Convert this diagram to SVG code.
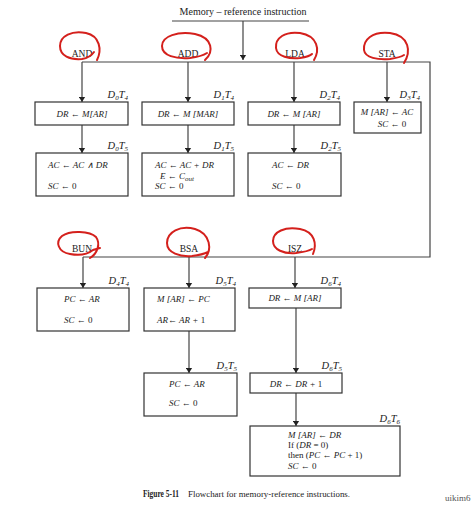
<svg xmlns="http://www.w3.org/2000/svg" width="474" height="505" viewBox="0 0 474 505">
<style>
text{font-family:"Liberation Serif","Times New Roman",serif;fill:#222}
.t{font-size:10px}
.op{font-size:9.5px}
.m{font-size:9px;font-style:italic}
.r{font-style:normal}
.lbl{font-size:10.5px;font-style:italic;text-anchor:end}
.sub{font-size:7px}
.c{text-anchor:middle}
.box{fill:#fff;stroke:#333;stroke-width:1.2}
.ln{fill:none;stroke:#444;stroke-width:1.2}
.red{fill:none;stroke:#d4201c;stroke-width:2;stroke-linecap:round}
.cap{font-size:9px}
</style>
<defs>
<marker id="ah" viewBox="0 0 8 10" refX="8" refY="5" markerWidth="5" markerHeight="7" orient="auto" markerUnits="userSpaceOnUse">
<path d="M0,0 L8,5 L0,10 z" fill="#222"/>
</marker>
</defs>
<rect width="474" height="505" fill="#fff"/>

<g id="title">
<text class="t c" x="243" y="15">Memory – reference instruction</text>
</g>

<g id="connectors">
<line class="ln" x1="172" y1="21" x2="309" y2="21"/>
<line class="ln" x1="243" y1="21" x2="243" y2="60" marker-end="url(#ah)"/>
<polyline class="ln" points="82,62 430,62 430,257 83,257"/>
<line class="ln" x1="82" y1="62" x2="82" y2="102" marker-end="url(#ah)"/>
<line class="ln" x1="188" y1="62" x2="188" y2="102" marker-end="url(#ah)"/>
<line class="ln" x1="294" y1="62" x2="294" y2="102" marker-end="url(#ah)"/>
<line class="ln" x1="387" y1="62" x2="387" y2="102" marker-end="url(#ah)"/>
<line class="ln" x1="82" y1="125" x2="82" y2="153" marker-end="url(#ah)"/>
<line class="ln" x1="188" y1="125" x2="188" y2="153" marker-end="url(#ah)"/>
<line class="ln" x1="294" y1="125" x2="294" y2="153" marker-end="url(#ah)"/>
<line class="ln" x1="83" y1="257" x2="83" y2="288" marker-end="url(#ah)"/>
<line class="ln" x1="189" y1="257" x2="189" y2="288" marker-end="url(#ah)"/>
<line class="ln" x1="295" y1="257" x2="295" y2="288" marker-end="url(#ah)"/>
<line class="ln" x1="189" y1="331" x2="189" y2="373" marker-end="url(#ah)"/>
<line class="ln" x1="296" y1="308" x2="296" y2="373" marker-end="url(#ah)"/>
<line class="ln" x1="296" y1="393" x2="296" y2="426" marker-end="url(#ah)"/>
</g>

<g id="opcodes">
<text class="op c" x="82" y="57">AND</text>
<text class="op c" x="188" y="57">ADD</text>
<text class="op c" x="295" y="57">LDA</text>
<text class="op c" x="387" y="57">STA</text>
<text class="op c" x="82" y="252">BUN</text>
<text class="op c" x="189" y="252">BSA</text>
<text class="op c" x="295" y="252">ISZ</text>
</g>

<g id="red-circles">
<path class="red" d="M97,60 C102,50 100,36 86,33 C72,30 60,36 60,46 C60,56 70,60 82,59 C88,58 92,55 94,52"/>
<path class="red" d="M205,60 C214,52 213,38 195,34 C178,31 162,36 162,46 C162,56 176,59 190,58 C198,57 204,55 207,53"/>
<path class="red" d="M314,60 C320,50 318,36 300,33 C285,31 275,38 276,48 C277,57 290,59 300,58 C306,57 310,56 312,54"/>
<path class="red" d="M404,63 C411,52 410,36 390,33 C372,31 363,40 364,50 C365,58 378,60 390,59 C397,58 401,57 404,55"/>
<path class="red" d="M90,258 C97,254 101,244 96,237 C90,231 70,230 62,236 C55,242 58,252 70,254 C80,256 88,254 93,250 L100,248"/>
<path class="red" d="M205,258 C212,250 211,234 195,229 C180,225 167,232 167,243 C167,253 180,257 192,256 C200,255 204,254 208,252"/>
<path class="red" d="M313,254 C317,244 315,232 300,229 C285,226 273,232 273,241 C273,250 284,254 296,253 C304,252 309,251 312,249"/>
</g>

<g id="and-t4">
<text class="lbl" x="128" y="98">D<tspan class="sub" dy="2">0</tspan><tspan dy="-2">T</tspan><tspan class="sub" dy="2">4</tspan></text>
<rect class="box" x="35" y="102" width="93" height="23"/>
<text class="m c" x="82" y="117">DR ← M[AR]</text>
</g>
<g id="add-t4">
<text class="lbl" x="234" y="98">D<tspan class="sub" dy="2">1</tspan><tspan dy="-2">T</tspan><tspan class="sub" dy="2">4</tspan></text>
<rect class="box" x="142" y="102" width="92" height="23"/>
<text class="m c" x="188" y="117">DR ← M [MAR]</text>
</g>
<g id="lda-t4">
<text class="lbl" x="340" y="98">D<tspan class="sub" dy="2">2</tspan><tspan dy="-2">T</tspan><tspan class="sub" dy="2">4</tspan></text>
<rect class="box" x="248" y="102" width="92" height="23"/>
<text class="m c" x="294" y="117">DR ← M [AR]</text>
</g>
<g id="sta-t4">
<text class="lbl" x="420" y="98">D<tspan class="sub" dy="2">3</tspan><tspan dy="-2">T</tspan><tspan class="sub" dy="2">4</tspan></text>
<rect class="box" x="354" y="102" width="67" height="31"/>
<text class="m c" x="387" y="115">M [AR] ← AC</text>
<text class="m c" x="392" y="127">SC ← <tspan class="r">0</tspan></text>
</g>

<g id="and-t5">
<text class="lbl" x="128" y="149">D<tspan class="sub" dy="2">0</tspan><tspan dy="-2">T</tspan><tspan class="sub" dy="2">5</tspan></text>
<rect class="box" x="36" y="153" width="92" height="43"/>
<text class="m" x="48" y="168">AC ← AC ∧ DR</text>
<text class="m" x="48" y="189">SC ← <tspan class="r">0</tspan></text>
</g>
<g id="add-t5">
<text class="lbl" x="234" y="149">D<tspan class="sub" dy="2">1</tspan><tspan dy="-2">T</tspan><tspan class="sub" dy="2">5</tspan></text>
<rect class="box" x="142" y="153" width="92" height="43"/>
<text class="m" x="155" y="168">AC ← AC + DR</text>
<text class="m" x="160" y="179">E ← C<tspan class="sub" dy="2">out</tspan></text>
<text class="m" x="155" y="189">SC ← <tspan class="r">0</tspan></text>
</g>
<g id="lda-t5">
<text class="lbl" x="341" y="149">D<tspan class="sub" dy="2">2</tspan><tspan dy="-2">T</tspan><tspan class="sub" dy="2">5</tspan></text>
<rect class="box" x="248" y="153" width="93" height="43"/>
<text class="m" x="272" y="168">AC ← DR</text>
<text class="m" x="272" y="189">SC ← <tspan class="r">0</tspan></text>
</g>

<g id="bun-t4">
<text class="lbl" x="129" y="284">D<tspan class="sub" dy="2">4</tspan><tspan dy="-2">T</tspan><tspan class="sub" dy="2">4</tspan></text>
<rect class="box" x="37" y="288" width="92" height="43"/>
<text class="m" x="64" y="302">PC ← AR</text>
<text class="m" x="64" y="323">SC ← <tspan class="r">0</tspan></text>
</g>
<g id="bsa-t4">
<text class="lbl" x="236" y="284">D<tspan class="sub" dy="2">5</tspan><tspan dy="-2">T</tspan><tspan class="sub" dy="2">4</tspan></text>
<rect class="box" x="144" y="288" width="91" height="43"/>
<text class="m" x="157" y="302">M [AR] ← PC</text>
<text class="m" x="157" y="323">AR← AR + <tspan class="r">1</tspan></text>
</g>
<g id="isz-t4">
<text class="lbl" x="341" y="284">D<tspan class="sub" dy="2">6</tspan><tspan dy="-2">T</tspan><tspan class="sub" dy="2">4</tspan></text>
<rect class="box" x="249" y="288" width="92" height="20"/>
<text class="m c" x="295" y="301">DR ← M [AR]</text>
</g>

<g id="bsa-t5">
<text class="lbl" x="237" y="369">D<tspan class="sub" dy="2">5</tspan><tspan dy="-2">T</tspan><tspan class="sub" dy="2">5</tspan></text>
<rect class="box" x="144" y="373" width="93" height="43"/>
<text class="m" x="169" y="387">PC ← AR</text>
<text class="m" x="169" y="406">SC ← <tspan class="r">0</tspan></text>
</g>
<g id="isz-t5">
<text class="lbl" x="342" y="369">D<tspan class="sub" dy="2">6</tspan><tspan dy="-2">T</tspan><tspan class="sub" dy="2">5</tspan></text>
<rect class="box" x="250" y="373" width="92" height="20"/>
<text class="m c" x="296" y="387">DR ← DR + <tspan class="r">1</tspan></text>
</g>
<g id="isz-t6">
<text class="lbl" x="400" y="422">D<tspan class="sub" dy="2">6</tspan><tspan dy="-2">T</tspan><tspan class="sub" dy="2">6</tspan></text>
<rect class="box" x="250" y="426" width="150" height="50"/>
<text class="m" x="288" y="438">M [AR] ← DR</text>
<text class="m" x="288" y="448"><tspan class="r">If (</tspan>DR <tspan class="r">= 0)</tspan></text>
<text class="m" x="288" y="458"><tspan class="r">then (</tspan>PC ← PC <tspan class="r">+ 1)</tspan></text>
<text class="m" x="288" y="469">SC ← <tspan class="r">0</tspan></text>
</g>

<g id="caption">
<text x="143" y="497" font-size="10" font-weight="bold" textLength="36" lengthAdjust="spacingAndGlyphs">Figure 5-11</text>
<text class="cap" x="188" y="497" textLength="162" lengthAdjust="spacingAndGlyphs">Flowchart for memory-reference instructions.</text>
<text class="cap" x="445" y="501" style="fill:#555">uikim6</text>
</g>
</svg>
